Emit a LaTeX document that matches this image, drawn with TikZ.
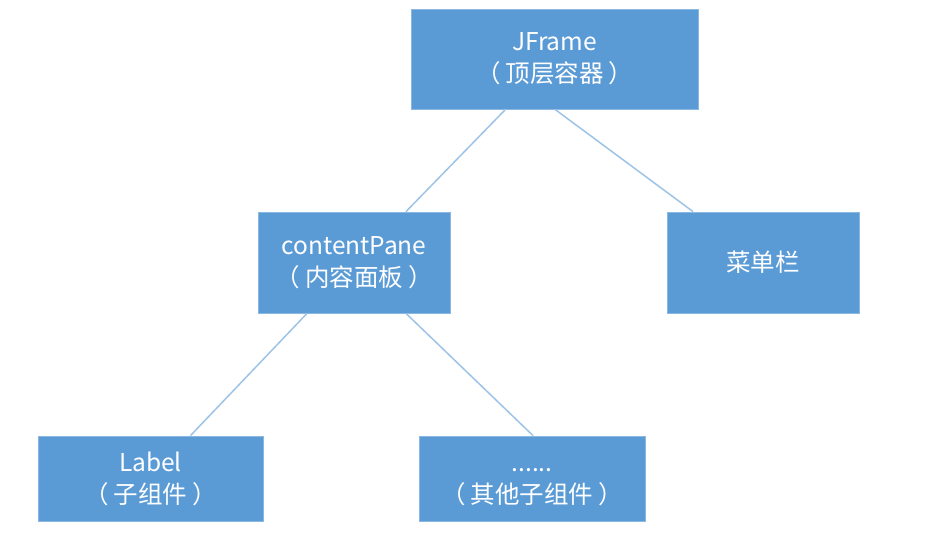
\documentclass[tikz,border=0pt]{standalone}
\usepackage{fontspec}
\setmainfont{Noto Sans CJK SC}
\definecolor{boxblue}{HTML}{5B9BD5}
\definecolor{boxedge}{HTML}{8AB8E3}
\definecolor{linkblue}{HTML}{9DC3E6}
\tikzset{
  box/.style={rectangle, fill=boxblue, draw=boxedge, line width=0.8pt, text=white,
    align=center, inner sep=0pt, font=\fontsize{24.5}{32}\selectfont},
  conn/.style={draw=linkblue, line width=1.5pt}
}
\newcommand{\ps}{\hspace{5pt}}
\begin{document}
\begin{tikzpicture}[x=1pt,y=-1pt]
\useasboundingbox (0,0) rectangle (936,534);
\node[box, minimum width=287pt, minimum height=100pt] (jf) at (554.5,59) {JFrame\\（\ps 顶层容器\ps ）};
\node[box, minimum width=192pt, minimum height=101pt] (cp) at (354,262.5) {contentPane\\（\ps 内容面板\ps ）};
\node[box, minimum width=192pt, minimum height=101pt] (mb) at (763,262.5) {菜单栏};
\node[box, minimum width=225pt, minimum height=85pt] (lb) at (150.5,478.5) {Label\\（\ps 子组件\ps ）};
\node[box, minimum width=226pt, minimum height=85pt] (ot) at (532,478.5) {\vphantom{Label}......\\（\ps 其他子组件\ps ）};
\draw[conn] ([xshift=-49pt]jf.south) -- ([xshift=52pt]cp.north);
\draw[conn] ([xshift=0.5pt]jf.south) -- ([xshift=-70pt]mb.north);
\draw[conn] ([xshift=-47pt]cp.south) -- ([xshift=40pt]lb.north);
\draw[conn] ([xshift=52pt]cp.south) -- ([xshift=1pt]ot.north);
\end{tikzpicture}
\end{document}
